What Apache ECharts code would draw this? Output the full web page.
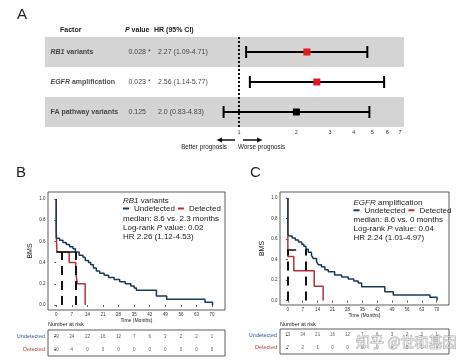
<!DOCTYPE html>
<html><head><meta charset="utf-8">
<script src="https://cdn.jsdelivr.net/npm/echarts@6/dist/echarts.min.js"></script>
<style>html,body{margin:0;padding:0;background:#fff}#c{width:474px;height:361px}</style>
</head><body><div id="c"></div>
<script>
// ---------- Panel A: forest plot ----------
const factors = ['RB1 variants', 'EGFR amplification', 'FA pathway variants'];
const factorItalic = ['RB1', 'EGFR', ''];
const pValues = ['0.028 *', '0.023 *', '0.125'];
const hrText = ['2.27 (1.09-4.71)', '2.56 (1.14-5.77)', '2.0 (0.83-4.83)'];
const hr = [2.27, 2.56, 2.0];
const hrLow = [1.09, 1.14, 0.83];
const hrHigh = [4.71, 5.77, 4.83];
const significant = [1, 1, 0];
const hrTicks = [1, 2, 3, 4, 5, 6, 7];

// ---------- Kaplan-Meier shared ----------
const timeTicks = [0, 7, 14, 21, 28, 35, 42, 49, 56, 63, 70];
const survTicks = [0, 0.2, 0.4, 0.6, 0.8, 1.0];
const groups = ['Undetected', 'Detected'];

// ---------- Panel B: RB1 variants ----------
const bUndetected = [[0,1],[0,0.63],[1.5,0.61],[3,0.59],[4.5,0.57],[6,0.55],[7.5,0.53],[8.6,0.50],[10.3,0.47],[12,0.45],[13,0.42],[14.5,0.40],[15.5,0.38],[16.7,0.35],[18,0.32],[19.5,0.30],[21.5,0.28],[23.5,0.26],[26,0.24],[28.5,0.22],[31,0.20],[33.5,0.18],[35,0.16],[36,0.14],[45,0.085],[49.6,0.054],[66.8,0.025],[70.2,0]];
const bDetected = [[0,1],[0,0.7],[0.3,0.5],[5.8,0.4],[8.8,0.3],[9.5,0.2],[13,0]];
const bMedians = [2.3, 8.6];
const bHalfLine = [0, 8.6];
const bRiskUndetected = [79, 34, 22, 16, 12, 7, 6, 3, 2, 2, 1];
const bRiskDetected = [10, 4, 0, 0, 0, 0, 0, 0, 0, 0, 0];
const bStats = ['RB1', ' variants', 'median: 8.6 vs. 2.3 months', '0.02', 'HR 2.26 (1.12-4.53)'];

// ---------- Panel C: EGFR amplification ----------
const cUndetected = [[0,1],[0,0.65],[0.5,0.63],[2,0.61],[3.5,0.59],[5,0.57],[6.5,0.55],[7.5,0.53],[8.5,0.50],[9.6,0.47],[11.1,0.44],[12,0.41],[13.5,0.38],[14.3,0.35],[15.8,0.33],[17.4,0.30],[19,0.28],[22,0.25],[25.3,0.23],[28.4,0.21],[31,0.19],[33.1,0.17],[34.7,0.135],[45.6,0.086],[49.6,0.054],[66.8,0.031],[70.2,0]];
const cDetected = [[0,1],[0,0.43],[2.8,0.29],[12.4,0.14],[16.6,0]];
const cMedians = [0, 8.6];
const cHalfLine = [0, 3.9];
const cRiskUndetected = [73, 34, 21, 16, 12, 7, 6, 3, 2, 2, 1];
const cRiskDetected = [7, 2, 1, 0, 0, 0, 0, 0, 0, 0, 0];
const cStats = ['EGFR', ' amplification', 'median: 8.6 vs. 0 months', '0.04', 'HR 2.24 (1.01-4.97)'];

// ---------- styles ----------
const FONT = 'Liberation Sans, Arial, sans-serif';
const BLUE = '#1d3a55';
const RED = '#b8303a';
const LBL_BLUE = '#2f5a8f';
const LBL_RED = '#c23b3b';
const TXT = '#222';
const ln = Math.log;
const FX = { min: -194 / 82.8, max: 165 / 82.8 };
const KX = { min: -3.7, max: 75.8 };

const chart = echarts.init(document.getElementById('c'));

function kmXAxis(gi, gap) {
  return { gridIndex: gi, type: 'value', min: KX.min, max: KX.max,
    axisLine: { show: false }, splitLine: { show: false },
    axisTick: { customValues: timeTicks, length: 2, lineStyle: { color: '#333', width: 0.8 } },
    axisLabel: { customValues: timeTicks, fontSize: 4.5, margin: 2.5, color: '#333', fontFamily: FONT },
    name: 'Time (Months)', nameLocation: 'middle', nameGap: gap,
    nameTextStyle: { fontSize: 5, color: TXT, fontFamily: FONT } };
}
function kmYAxis(gi, min, max) {
  return { gridIndex: gi, type: 'value', min: min, max: max,
    axisLine: { show: false }, splitLine: { show: false },
    axisTick: { customValues: survTicks, length: 2, lineStyle: { color: '#333', width: 0.8 } },
    axisLabel: { customValues: survTicks, formatter: v => v.toFixed(1), fontSize: 4.5, margin: 2.5, color: '#333', fontFamily: FONT },
    name: 'BMS', nameLocation: 'middle', nameGap: 14, nameRotate: 90,
    nameTextStyle: { fontSize: 7, color: TXT, fontFamily: FONT } };
}
function riskXAxis(gi) {
  return { gridIndex: gi, type: 'value', min: KX.min, max: KX.max, show: false };
}
function riskYAxis(gi) {
  return { gridIndex: gi, type: 'category', data: groups, inverse: true,
    axisLine: { show: false }, splitLine: { show: false },
    axisTick: { show: true, length: 2, alignWithLabel: true, lineStyle: { color: '#333', width: 0.8 } },
    axisLabel: { fontSize: 5.5, margin: 3, fontFamily: FONT,
      formatter: v => v === 'Undetected' ? '{u|' + v + '}' : '{d|' + v + '}',
      rich: { u: { color: LBL_BLUE, fontSize: 5.5, fontFamily: FONT }, d: { color: LBL_RED, fontSize: 5.5, fontFamily: FONT } } } };
}
function kmLine(name, data, color, xi, yi, extra) {
  return Object.assign({ type: 'line', name: name, xAxisIndex: xi, yAxisIndex: yi, data: data,
    step: 'end', showSymbol: false, symbol: 'none', color: color,
    lineStyle: { color: color, width: 1.5 }, silent: true }, extra || {});
}
function medianMarks(medians, half) {
  const dash = { type: [9, 6], width: 2, color: '#111' };
  return { silent: true, symbol: 'none', label: { show: false }, animation: false,
    data: medians.map(m => [{ coord: [m, 0], lineStyle: dash }, { coord: [m, 0.5] }])
      .concat([[{ coord: [half[0], 0.5], lineStyle: { type: 'solid', width: 1.5, color: '#111' } }, { coord: [half[1], 0.5] }]]) };
}
function riskSeries(xi, yi, undet, det) {
  const data = timeTicks.map((t, i) => [t, 'Undetected', undet[i]])
    .concat(timeTicks.map((t, i) => [t, 'Detected', det[i]]));
  return { type: 'scatter', xAxisIndex: xi, yAxisIndex: yi, data: data, symbolSize: 1, silent: true,
    itemStyle: { color: 'rgba(0,0,0,0)' },
    label: { show: true, position: 'inside', formatter: p => String(p.value[2]), fontSize: 4.5, color: '#333', fontFamily: FONT } };
}
function textCol(xPos, fmt) {
  return { type: 'scatter', xAxisIndex: 1, yAxisIndex: 1, symbolSize: 1, silent: true,
    itemStyle: { color: 'rgba(0,0,0,0)' },
    data: factors.map((f, i) => [xPos, i + 0.5]),
    label: { show: true, position: 'right', distance: 0, formatter: fmt, fontSize: 7, color: TXT, fontFamily: FONT,
      rich: { bi: { fontWeight: 'bold', fontStyle: 'italic', fontSize: 7, fontFamily: FONT, color: TXT },
              b: { fontWeight: 'bold', fontSize: 7, fontFamily: FONT, color: TXT } } } };
}
function txt(x, y, text, opt) {
  opt = opt || {};
  return { type: 'text', x: x, y: y, z: 50, silent: true,
    style: Object.assign({ text: text, fill: TXT, fontSize: opt.fontSize || 8, fontFamily: FONT,
      fontWeight: opt.fontWeight || 'normal', align: opt.align || 'left', verticalAlign: 'middle',
      textAlign: opt.align || 'left', textVerticalAlign: 'middle',
      rich: { i: { fontStyle: 'italic', fontWeight: opt.fontWeight || 'normal', fontSize: opt.fontSize || 8, fontFamily: FONT, fill: TXT, color: TXT } } }, opt.style || {}) };
}
function statTexts(x, ys, s) {
  return [
    txt(x, ys[0], '{i|' + s[0] + '}' + s[1]),
    txt(x, ys[1], s[2]),
    txt(x, ys[2], 'Log-rank {i|P} value: ' + s[3]),
    txt(x, ys[3], s[4])
  ];
}

const option = {
  animation: false,
  backgroundColor: '#fff',
  textStyle: { fontFamily: FONT },
  grid: [
    { left: 45, top: 37, width: 359, height: 90 },                       // 0 forest
    { left: 45, top: 37, width: 170, height: 90 },                       // 1 forest table text
    { left: 48, top: 192, width: 177, height: 118, show: true, borderColor: '#333', borderWidth: 0.8 }, // 2 B plot
    { left: 48, top: 330, width: 177, height: 26, show: true, borderColor: '#333', borderWidth: 0.8 },  // 3 B risk
    { left: 280, top: 192, width: 169, height: 113, show: true, borderColor: '#333', borderWidth: 0.8 },// 4 C plot
    { left: 280, top: 329, width: 169, height: 25, show: true, borderColor: '#333', borderWidth: 0.8 }  // 5 C risk
  ],
  xAxis: [
    { gridIndex: 0, type: 'value', min: FX.min, max: FX.max, axisLine: { show: false }, splitLine: { show: false },
      axisTick: { customValues: hrTicks.map(ln), length: 3, lineStyle: { color: '#555', width: 0.8 } },
      axisLabel: { customValues: hrTicks.map(ln), formatter: v => String(Math.round(Math.exp(v))), fontSize: 5.5, margin: 2, color: '#333', fontFamily: FONT } },
    { gridIndex: 1, type: 'value', min: 0, max: 170, show: false },
    kmXAxis(2, 6.5),
    riskXAxis(3),
    kmXAxis(4, 6.5),
    riskXAxis(5)
  ],
  yAxis: [
    { gridIndex: 0, type: 'value', min: 0, max: 3, inverse: true, show: false },
    { gridIndex: 1, type: 'value', min: 0, max: 3, inverse: true, show: false },
    kmYAxis(2, -0.047, 1.066),
    riskYAxis(3),
    kmYAxis(4, -0.044, 1.059),
    riskYAxis(5)
  ],
  legend: [
    { left: 123, top: 204.5, padding: 0, itemGap: 3, itemWidth: 6, itemHeight: 2, icon: 'rect', selectedMode: false,
      data: groups, textStyle: { fontSize: 8, color: TXT, fontFamily: FONT } },
    { left: 353.5, top: 206.3, padding: 0, itemGap: 3, itemWidth: 6, itemHeight: 2, icon: 'rect', selectedMode: false,
      data: groups, textStyle: { fontSize: 8, color: TXT, fontFamily: FONT } }
  ],
  series: [
    { type: 'custom', xAxisIndex: 0, yAxisIndex: 0, silent: true,
      data: factors.map((f, i) => [i + 0.5, ln(hrLow[i]), ln(hr[i]), ln(hrHigh[i]), significant[i]]),
      encode: { x: [1, 2, 3], y: 0 },
      renderItem: (params, api) => {
        const y = api.value(0);
        const pl = api.coord([api.value(1), y]);
        const pm = api.coord([api.value(2), y]);
        const ph = api.coord([api.value(3), y]);
        const col = api.value(4) ? '#e01b22' : '#000';
        const ls = { stroke: '#000', lineWidth: 2 };
        return { type: 'group', children: [
          { type: 'line', shape: { x1: pl[0], y1: pl[1], x2: ph[0], y2: ph[1] }, style: ls },
          { type: 'line', shape: { x1: pl[0], y1: pl[1] - 6, x2: pl[0], y2: pl[1] + 6 }, style: ls },
          { type: 'line', shape: { x1: ph[0], y1: ph[1] - 6, x2: ph[0], y2: ph[1] + 6 }, style: ls },
          { type: 'rect', shape: { x: pm[0] - 3.5, y: pm[1] - 3.5, width: 7, height: 7 }, style: { fill: col } }
        ] };
      },
      markArea: { silent: true, itemStyle: { color: '#d4d4d4' },
        data: [[{ yAxis: 0 }, { yAxis: 1 }], [{ yAxis: 2 }, { yAxis: 3 }]] },
      markLine: { silent: true, symbol: 'none', label: { show: false },
        lineStyle: { type: [2, 2], width: 2, color: '#111' }, data: [{ xAxis: 0 }] }
    },
    textCol(5, p => { const i = p.dataIndex; const it = factorItalic[i]; const f = factors[i];
      return it ? '{bi|' + it + '}{b|' + f.slice(it.length) + '}' : '{b|' + f + '}'; }),
    textCol(83, p => pValues[p.dataIndex]),
    textCol(112.5, p => hrText[p.dataIndex]),

    kmLine('Undetected', bUndetected, BLUE, 2, 2, { markLine: medianMarks(bMedians, bHalfLine), z: 3 }),
    kmLine('Detected', bDetected, RED, 2, 2, { z: 2 }),
    riskSeries(3, 3, bRiskUndetected, bRiskDetected),

    kmLine('Undetected', cUndetected, BLUE, 4, 4, { markLine: medianMarks(cMedians, cHalfLine), z: 3 }),
    kmLine('Detected', cDetected, RED, 4, 4, { z: 2 }),
    riskSeries(5, 5, cRiskUndetected, cRiskDetected)
  ],
  graphic: [
    txt(17, 14.5, 'A', { fontSize: 15 }),
    txt(16, 173, 'B', { fontSize: 15 }),
    txt(250, 173, 'C', { fontSize: 15 }),
    txt(60, 30.5, 'Factor', { fontSize: 7, fontWeight: 'bold' }),
    txt(125, 30.5, '{i|P} value', { fontSize: 7, fontWeight: 'bold' }),
    txt(154, 30.5, 'HR (95% CI)', { fontSize: 7, fontWeight: 'bold' }),
    { type: 'line', silent: true, shape: { x1: 235, y1: 140, x2: 221, y2: 140 }, style: { stroke: '#111', lineWidth: 1.5 } },
    { type: 'polygon', silent: true, shape: { points: [[216.5, 140], [222, 137.5], [222, 142.5]] }, style: { fill: '#111' } },
    { type: 'line', silent: true, shape: { x1: 243, y1: 140, x2: 258, y2: 140 }, style: { stroke: '#111', lineWidth: 1.5 } },
    { type: 'polygon', silent: true, shape: { points: [[262.5, 140], [257, 137.5], [257, 142.5]] }, style: { fill: '#111' } },
    txt(227, 147, 'Better prognosis', { fontSize: 6.3, align: 'right' }),
    txt(238, 147, 'Worse prognosis', { fontSize: 6.3 }),
    ...statTexts(123, [200.7, 219, 227.9, 237.2], bStats),
    ...statTexts(353.5, [202.3, 220, 229, 237.6], cStats),
    txt(48, 324.3, 'Number at risk', { fontSize: 5.5 }),
    txt(280, 324, 'Number at risk', { fontSize: 5.5 }),
    { type: 'text', x: 356, y: 341.5, z: 100, silent: true,
      style: { text: '知乎 @世和基因', fontSize: 14, fontFamily: 'Noto Sans CJK SC, sans-serif',
        fill: 'rgba(255,255,255,0.6)', stroke: 'rgba(110,110,110,0.6)', lineWidth: 0.8,
        align: 'left', verticalAlign: 'middle', textAlign: 'left', textVerticalAlign: 'middle' } }
  ]
};
chart.setOption(option);
</script>
</body></html>
